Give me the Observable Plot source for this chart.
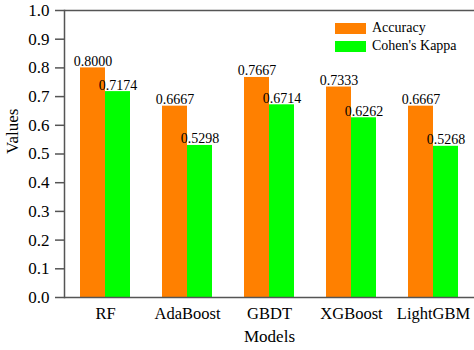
<!DOCTYPE html>
<html>
<head>
<meta charset="utf-8">
<script src="https://cdn.jsdelivr.net/npm/d3@7"></script>
<script src="https://cdn.jsdelivr.net/npm/@observablehq/plot@0.6"></script>
<style>
  html, body { margin: 0; padding: 0; background: #fff; }
  #wrap { position: relative; width: 474px; height: 350px; font-family: "Liberation Serif", "Times New Roman", serif; }
  #wrap svg, #wrap svg text, #wrap svg g { font-family: "Liberation Serif", "Times New Roman", serif !important; }
  #legend { position: absolute; left: 335px; top: 19px; font-size: 14px; color: #000; }
  .row { display: flex; align-items: center; height: 18px; }
  .sw { width: 31px; height: 11px; margin-right: 6px; }
</style>
</head>
<body>
<div id="wrap"><div id="legend"></div></div>
<script>
const models = ["RF", "AdaBoost", "GBDT", "XGBoost", "LightGBM"];
const accuracy = [0.8000, 0.6667, 0.7667, 0.7333, 0.6667];
const kappa = [0.7174, 0.5298, 0.6714, 0.6262, 0.5268];
const seriesNames = ["Accuracy", "Cohen's Kappa"];
const seriesColors = ["#ff8000", "#00ff00"];
const yTicks = [0, 0.1, 0.2, 0.3, 0.4, 0.5, 0.6, 0.7, 0.8, 0.9, 1.0];

const accData = models.map((m, i) => ({model: m, value: accuracy[i]}));
const kapData = models.map((m, i) => ({model: m, value: kappa[i]}));
const half = 25;
const axisColor = "#555";
const serif = "Liberation Serif";

const chart = Plot.plot({
  width: 474,
  height: 350,
  marginLeft: 64,
  marginRight: 0,
  marginTop: 10,
  marginBottom: 53,
  style: {fontFamily: serif, fontSize: "16px", color: "#000", background: "#fff"},
  x: {domain: models, paddingInner: 0.39, paddingOuter: 0.195, label: null},
  y: {domain: [0, 1], label: null},
  marks: [
    Plot.barY(accData, {x: "model", y: "value", fill: seriesColors[0], insetRight: half}),
    Plot.barY(kapData, {x: "model", y: "value", fill: seriesColors[1], insetLeft: half}),
    Plot.text(accData, {x: "model", y: "value", text: d => d.value.toFixed(4), dx: -half / 2, dy: -2, lineAnchor: "bottom", fontSize: 14, fontFamily: serif}),
    Plot.text(kapData, {x: "model", y: "value", text: d => d.value.toFixed(4), dx: half / 2, dy: -2, lineAnchor: "bottom", fontSize: 14, fontFamily: serif}),
    Plot.ruleY([0, 1], {stroke: axisColor, strokeWidth: 1.5}),
    Plot.frame({anchor: "left", stroke: axisColor, strokeWidth: 1.5}),
    Plot.axisY({ticks: yTicks, tickFormat: d3.format(".1f"), tickSize: 9, tickPadding: 6, stroke: axisColor, strokeWidth: 1.5, fontSize: 17, fontFamily: serif, label: null}),
    Plot.axisX({tickSize: 0, tickPadding: 10, fontSize: 16.5, fontFamily: serif, label: null}),
    Plot.text(["Models"], {frameAnchor: "bottom", dy: 44, fontSize: 17, fontFamily: serif}),
    Plot.text(["Values"], {frameAnchor: "left", dx: -52, rotate: -90, fontSize: 17, fontFamily: serif})
  ]
});
d3.select(chart).selectAll("text, g").attr("font-family", serif).style("font-family", serif);
document.getElementById("wrap").prepend(chart);

const legend = document.getElementById("legend");
seriesNames.forEach((name, i) => {
  const row = document.createElement("div");
  row.className = "row";
  const sw = document.createElement("div");
  sw.className = "sw";
  sw.style.background = seriesColors[i];
  const lab = document.createElement("span");
  lab.textContent = name;
  row.appendChild(sw);
  row.appendChild(lab);
  legend.appendChild(row);
});
</script>
</body>
</html>
